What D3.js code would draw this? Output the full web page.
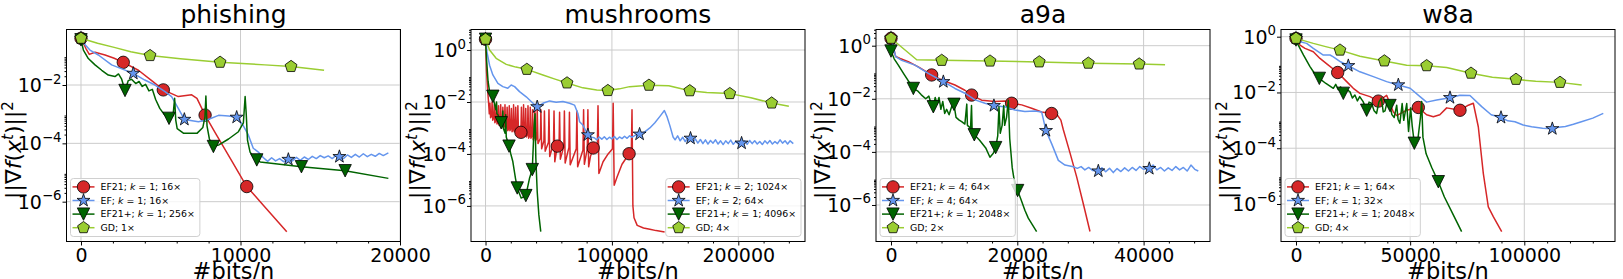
<!DOCTYPE html>
<html>
<head>
<meta charset="utf-8">
<script src="https://cdn.jsdelivr.net/npm/d3@7"></script>
<style>
  body { margin: 0; background: #fff; }
  text { font-family: "DejaVu Sans", sans-serif; fill: #000; }
</style>
</head>
<body>
<svg id="chart" width="1623" height="279"></svg>
<script>
// ---------- phishing ----------
const phishingEF21 = [[0,0.40],[310,0.178],[520,0.112],[880,0.132],[1510,0.107],[2080,0.083],[2650,0.060],[3600,0.032],[4430,0.0141],[5160,6.8e-3],[6100,4.0e-3],[6940,4.6e-3],[7270,3.5e-3],[7780,9.3e-4],[8400,2.4e-4],[9450,2.5e-5],[10390,3.3e-6],[11430,7.6e-7],[12900,9.3e-8]];
const phishingEF21Marks = [[0,0.40],[2650,0.060],[5160,6.8e-3],[7780,9.3e-4],[10390,3.3e-6]];
const phishingEF = [[0,0.40],[260,0.24],[560,0.158],[1090,0.107],[1920,0.049],[3280,0.025],[4000,0.0148],[4640,0.010],[5270,5.9e-3],[5680,4.0e-3],[6100,1.58e-3],[6480,6.6e-4],[7360,5.5e-4],[7900,6.3e-4],[8620,9.1e-4],[9250,8.7e-4],[9760,7.8e-4],[10180,4.0e-4],[10490,1.95e-4],[10800,6.8e-5],[11120,5.0e-5],[11440,3.2e-5],[11700,2.4e-5],[11950,3.2e-5],[12200,2.5e-5],[12450,3.0e-5],[12700,2.35e-5],[13000,2.8e-5],[13250,2.5e-5],[13500,3.3e-5],[13750,2.6e-5],[14000,3.4e-5],[14250,2.8e-5],[14500,3.6e-5],[14750,3.0e-5],[15000,3.8e-5],[15250,3.2e-5],[15500,3.7e-5],[15750,3.0e-5],[16000,3.9e-5],[16200,3.5e-5],[16450,3.0e-5],[16700,4.0e-5],[16950,3.3e-5],[17200,4.2e-5],[17450,3.4e-5],[17700,4.4e-5],[17950,3.5e-5],[18200,4.2e-5],[18450,3.6e-5],[18700,4.5e-5],[18950,3.8e-5],[19270,4.7e-5]];
const phishingEFMarks = [[0,0.40],[3280,0.025],[6480,6.6e-4],[9760,7.8e-4],[13000,2.8e-5],[16200,3.5e-5]];
const phishingEF21p = [[0,0.355],[150,0.158],[460,0.081],[880,0.049],[1300,0.032],[1710,0.022],[2130,0.0195],[2350,0.024],[2550,0.0158],[2760,6.5e-3],[2960,0.0141],[3170,0.0158],[3430,0.0112],[3640,0.0132],[3840,8.9e-3],[4050,0.0105],[4260,6.3e-3],[4470,7.1e-3],[4680,3.2e-3],[4940,1.58e-3],[5200,1.0e-3],[5520,7.2e-4],[5770,8.9e-4],[5870,3.5e-3],[5940,6.3e-4],[6030,3.2e-4],[6440,2.2e-4],[7270,2.2e-4],[7640,3.5e-4],[7770,7.9e-4],[7830,4.2e-3],[7900,4.0e-4],[8050,1.41e-4],[8300,7.8e-5],[8620,8.7e-5],[9250,1.41e-4],[9870,2.5e-4],[10180,5.0e-4],[10290,4.0e-3],[10360,1.0e-3],[10440,1.26e-4],[10600,5.0e-5],[10800,3.5e-5],[11020,2.7e-5],[11230,2.3e-5],[13820,1.58e-5],[16560,1.15e-5],[19270,6.3e-6]];
const phishingEF21pMarks = [[0,0.355],[2760,6.5e-3],[5520,7.2e-4],[8300,7.8e-5],[11020,2.7e-5],[13820,1.58e-5],[16560,1.15e-5]];
const phishingGD = [[0,0.40],[1040,0.27],[2080,0.195],[3120,0.138],[4330,0.102],[6230,0.079],[8720,0.060],[10390,0.054],[11530,0.049],[13170,0.043],[15240,0.032]];
const phishingGDMarks = [[0,0.40],[4330,0.102],[8720,0.060],[13170,0.043]];
const phishingK = [1, 1, 1];
const phishingMult = ["16×", "16×", "256×", "1×"];
const phishingXTicks = [0, 10000, 20000];
const phishingYTicks = [1e-6, 1e-4, 1e-2];

// ---------- mushrooms ----------
const mushroomsEF21 = [[0,2.6],[800,0.158],[1600,0.0316],[2400,0.010],[3000,3.5e-3],[3500,8.9e-3],[4000,2.5e-3],[4800,2.8e-3],[5200,1.0e-2],[5700,2.0e-3],[6500,2.5e-3],[6900,7.9e-3],[7400,1.58e-3],[8200,2.0e-3],[8600,8.9e-3],[9100,1.41e-3],[9900,1.78e-3],[10300,7.1e-3],[10800,1.26e-3],[11600,1.58e-3],[12000,7.9e-3],[12500,1.12e-3],[13300,1.41e-3],[13700,6.3e-3],[14200,1.0e-3],[15000,1.26e-3],[15400,7.9e-3],[15900,8.9e-4],[16700,1.12e-3],[17100,6.3e-3],[17600,7.9e-4],[18400,1.0e-3],[18800,7.1e-3],[19300,7.9e-4],[20100,1.0e-3],[20500,5.6e-3],[21000,7.1e-4],[21800,8.9e-4],[22200,7.9e-3],[22700,7.1e-4],[23500,8.9e-4],[23900,6.3e-3],[24400,6.3e-4],[25200,7.9e-4],[25600,7.1e-3],[26100,5.6e-4],[28000,6.8e-4],[28400,6.3e-3],[28900,5.0e-4],[29700,6.3e-4],[30100,7.9e-3],[30600,5.0e-4],[31400,6.3e-4],[31800,5.6e-3],[32300,4.5e-4],[33200,5.6e-4],[33600,7.1e-3],[34100,4.0e-4],[35000,5.0e-4],[35400,6.3e-3],[35900,4.0e-4],[36800,5.0e-4],[37200,5.0e-3],[37700,3.5e-4],[38600,4.5e-4],[39000,6.3e-3],[39500,3.2e-4],[40500,4.0e-4],[40900,5.6e-3],[41500,2.5e-4],[43400,4.0e-4],[43800,5.0e-3],[44400,1.58e-4],[46200,3.2e-4],[46600,4.5e-3],[47200,1.26e-4],[49800,2.8e-4],[50200,5.0e-3],[50800,7.9e-5],[53800,2.5e-4],[54200,4.5e-3],[54800,5.0e-5],[56800,2.0e-4],[58200,2.5e-4],[58600,4.0e-3],[59200,6.3e-5],[62000,2.0e-4],[62400,4.5e-3],[63000,4.5e-5],[66000,1.78e-4],[66400,4.0e-3],[67000,3.8e-5],[71800,1.58e-4],[72300,4.5e-3],[72900,3.2e-5],[77100,1.41e-4],[77600,5.0e-3],[78200,4.0e-5],[80500,1.58e-4],[81000,5.0e-3],[81600,3.2e-5],[83000,7.9e-5],[85200,1.7e-4],[88500,2.5e-4],[89000,7.1e-3],[89700,1.78e-5],[93000,5.0e-5],[97000,1.0e-4],[100500,1.58e-4],[101000,8.9e-3],[101800,6.3e-6],[104000,1.26e-5],[108000,4.0e-5],[113600,1.02e-4],[115400,1.58e-4],[115900,5.0e-3],[116600,1.0e-6],[117500,3.5e-7],[120000,1.78e-7],[125000,1.41e-7],[130000,1.26e-7],[135000,1.12e-7],[141700,1.0e-7]];
const mushroomsEF21Marks = [[0,2.6],[28000,6.8e-4],[56800,2.0e-4],[85200,1.7e-4],[113600,1.02e-4]];
const mushroomsEF = [[0,2.6],[1100,0.87],[3200,0.26],[5800,0.11],[9800,0.052],[13700,0.039],[17600,0.034],[20300,0.045],[23000,0.039],[26900,0.025],[32200,0.0158],[36500,0.010],[40900,0.0065],[45400,0.0089],[50700,0.011],[55900,0.0098],[61200,0.0105],[66500,0.0089],[70400,0.0076],[73100,0.0036],[74400,0.00174],[77000,0.00129],[81000,5.4e-4],[84000,4.4e-4],[86000,4.2e-4],[88000,3.5e-4],[90000,4.5e-4],[92000,3.7e-4],[94000,4.6e-4],[96000,3.6e-4],[98000,4.4e-4],[100000,3.8e-4],[102000,4.7e-4],[104000,3.6e-4],[106000,4.5e-4],[108000,3.9e-4],[110000,4.8e-4],[112000,4.0e-4],[114000,5.0e-4],[116000,4.4e-4],[119000,5.4e-4],[121900,5.75e-4],[126000,7.1e-4],[130000,1.0e-3],[134000,1.58e-3],[138000,2.8e-3],[141500,4.7e-3],[143500,2.8e-3],[145800,1.26e-3],[148400,4.5e-4],[150000,3.5e-4],[152000,5.0e-4],[154000,3.2e-4],[156000,4.4e-4],[158000,3.0e-4],[160000,4.2e-4],[162200,4.0e-4],[164000,2.8e-4],[166000,3.8e-4],[168000,2.6e-4],[170000,3.6e-4],[172000,2.5e-4],[174000,3.5e-4],[176000,2.4e-4],[178000,3.3e-4],[180000,2.6e-4],[182000,3.5e-4],[184000,2.4e-4],[186000,3.2e-4],[188000,2.3e-4],[190000,3.2e-4],[192000,2.5e-4],[194000,3.4e-4],[196000,2.35e-4],[198000,3.0e-4],[200000,2.4e-4],[202600,2.6e-4],[205000,3.2e-4],[207000,2.35e-4],[209000,3.3e-4],[211000,2.5e-4],[213000,3.2e-4],[215000,2.4e-4],[217000,3.0e-4],[219000,2.3e-4],[221000,3.2e-4],[223000,2.5e-4],[225000,3.3e-4],[227000,2.4e-4],[229000,3.0e-4],[231000,2.5e-4],[233000,3.5e-4],[235000,2.6e-4],[237000,3.2e-4],[239000,2.4e-4],[241000,3.2e-4],[243500,2.5e-4]];
const mushroomsEFMarks = [[0,2.6],[40900,0.0065],[81000,5.4e-4],[121900,5.75e-4],[162200,4.0e-4],[202600,2.6e-4]];
const mushroomsEF21p = [[0,2.6],[1000,0.32],[2000,0.063],[3200,0.025],[4300,0.021],[5800,0.0166],[7000,8.9e-3],[8200,5.0e-3],[8700,0.010],[9000,3.5e-3],[9800,3.2e-3],[11000,2.2e-3],[12400,1.58e-3],[13300,1.26e-3],[13700,4.5e-3],[14000,1.0e-3],[15500,6.3e-4],[16000,3.2e-3],[16400,4.5e-4],[18600,2.0e-4],[20000,1.0e-4],[21600,5.1e-5],[23700,1.15e-5],[25100,4.9e-6],[28200,2.0e-6],[31900,2.5e-6],[34800,1.15e-5],[37000,2.5e-5],[38500,1.32e-3],[39200,3.5e-3],[39800,6.8e-5],[40900,3.5e-6],[42200,4.5e-7],[43700,1.02e-7]];
const mushroomsEF21pMarks = [[0,2.6],[5800,0.0166],[12400,1.58e-3],[18600,2.0e-4],[25100,4.9e-6],[31900,2.5e-6],[37000,2.5e-5]];
const mushroomsGD = [[0,2.6],[3200,1.0],[8400,0.48],[16400,0.28],[24000,0.22],[32700,0.18],[45400,0.11],[55000,0.076],[64500,0.054],[77000,0.035],[88000,0.029],[96800,0.0275],[106000,0.032],[114000,0.039],[129300,0.044],[145000,0.042],[161600,0.027],[175000,0.023],[193300,0.021],[210000,0.0145],[226400,0.0091],[240000,0.0068]];
const mushroomsGDMarks = [[0,2.6],[32700,0.18],[64500,0.054],[96800,0.0275],[129300,0.044],[161600,0.027],[193300,0.021],[226400,0.0091]];
const mushroomsK = [2, 2, 1];
const mushroomsMult = ["1024×", "64×", "4096×", "4×"];
const mushroomsXTicks = [0, 100000, 200000];
const mushroomsYTicks = [1e-6, 1e-4, 1e-2, 1];

// ---------- a9a ----------
const a9aEF21 = [[0,1.9],[740,0.39],[1450,0.33],[2740,0.25],[4320,0.16],[6440,0.079],[8050,0.051],[10130,0.033],[11700,0.021],[12770,0.0138],[14350,0.0089],[16460,0.0079],[18000,0.0083],[19100,0.0068],[20700,0.0059],[22270,0.0044],[23850,0.0032],[25430,0.0028],[26300,0.0025],[26900,0.00158],[27290,6.8e-4],[28300,1.0e-4],[29400,1.15e-5],[30500,1.0e-6],[31510,1.0e-7]];
const a9aEF21Marks = [[0,1.9],[6440,0.079],[12770,0.0138],[19100,0.0068],[25430,0.0028]];
const a9aEF = [[0,1.9],[740,0.39],[1690,0.28],[3800,0.186],[5900,0.091],[8290,0.044],[10130,0.0245],[11700,0.0162],[13300,0.0091],[14880,0.0068],[16300,0.0055],[18000,0.005],[19630,0.0038],[21200,0.0033],[22800,0.0035],[23850,0.0032],[24540,6.3e-4],[25450,2.0e-4],[26500,4.8e-5],[27550,3.2e-5],[28870,2.75e-5],[29500,2.4e-5],[30100,2.8e-5],[30700,2.1e-5],[31300,2.6e-5],[31900,2.0e-5],[32830,1.9e-5],[33400,2.5e-5],[34000,1.78e-5],[34600,2.4e-5],[35200,1.66e-5],[35800,2.35e-5],[36400,1.82e-5],[37000,2.5e-5],[37600,1.9e-5],[38200,2.6e-5],[38800,2.0e-5],[39400,2.8e-5],[40000,2.2e-5],[40900,2.35e-5],[41500,3.2e-5],[42100,2.1e-5],[42700,2.6e-5],[43300,1.9e-5],[43900,2.5e-5],[44500,2.0e-5],[45100,2.8e-5],[45700,2.1e-5],[46300,2.6e-5],[46900,1.9e-5],[47500,3.2e-5],[48100,2.2e-5],[48660,1.9e-5]];
const a9aEFMarks = [[0,1.9],[8290,0.044],[16300,0.0055],[24540,6.3e-4],[32830,1.9e-5],[40900,2.35e-5]];
const a9aEF21p = [[0,0.63],[500,0.32],[1160,0.186],[2000,0.089],[2800,0.045],[3540,0.0245],[4200,0.020],[4800,0.0141],[5500,0.010],[6000,0.0126],[6300,7.1e-3],[6700,5.0e-3],[7000,0.0112],[7300,6.3e-3],[7600,0.0112],[7900,4.0e-3],[8200,7.9e-3],[8500,2.8e-3],[8810,4.0e-3],[9200,2.5e-3],[9600,5.0e-3],[9970,6.2e-3],[10300,2.0e-3],[10800,1.58e-3],[11190,1.38e-3],[11700,1.12e-3],[12000,6.3e-3],[12100,1.0e-3],[12600,7.9e-4],[12750,5.6e-3],[12850,6.3e-4],[13190,4.4e-4],[14000,2.8e-4],[15000,1.41e-4],[15670,6.3e-5],[16200,8.9e-5],[16570,1.45e-4],[16900,4.0e-4],[17100,5.0e-3],[17300,5.0e-4],[17600,1.0e-3],[17850,5.6e-3],[18000,1.0e-3],[18300,2.0e-3],[18580,8.9e-3],[18800,3.2e-4],[19200,2.5e-5],[19600,6.3e-6],[20050,3.5e-6],[20600,1.58e-6],[21200,6.3e-7],[21740,3.2e-7],[22400,1.78e-7],[23060,1.0e-7]];
const a9aEF21pMarks = [[0,0.63],[3540,0.0245],[6700,5.0e-3],[9970,6.2e-3],[13190,4.4e-4],[16570,1.45e-4],[20050,3.5e-6]];
const a9aGD = [[0,1.9],[4070,0.295],[8030,0.28],[15680,0.263],[23480,0.245],[31250,0.219],[39300,0.204],[43400,0.19]];
const a9aGDMarks = [[0,1.9],[8030,0.28],[15680,0.263],[23480,0.245],[31250,0.219],[39300,0.204]];
const a9aK = [4, 4, 1];
const a9aMult = ["64×", "64×", "2048×", "2×"];
const a9aXTicks = [0, 20000, 40000];
const a9aYTicks = [1e-6, 1e-4, 1e-2, 1];

// ---------- w8a ----------
const w8aEF21 = [[0,0.87],[1750,0.5],[3940,0.38],[7590,0.29],[10500,0.166],[13900,0.1],[18250,0.052],[22200,0.0245],[25100,0.0141],[28000,0.0093],[32400,0.0071],[36060,0.0049],[39700,0.0079],[42630,0.0020],[44080,0.00148],[48470,0.0023],[53580,0.0029],[57200,0.00158],[60150,0.00135],[63000,0.00158],[66000,0.0028],[71830,0.0023],[75480,0.0035],[77670,0.0041],[79850,5.9e-4],[82040,1.26e-5],[84230,7.9e-7],[86420,3.5e-7],[90100,1.02e-7]];
const w8aEF21Marks = [[0,0.87],[18250,0.052],[36060,0.0049],[53580,0.0029],[71830,0.0023]];
const w8aEF = [[0,0.87],[1750,0.66],[4670,0.575],[7590,0.38],[11970,0.22],[14900,0.22],[16350,0.19],[19500,0.126],[22920,0.091],[28000,0.055],[33870,0.037],[39700,0.0245],[44820,0.0186],[50000,0.0141],[54310,0.0071],[57200,0.0045],[61600,0.0054],[67450,0.0065],[71800,0.0079],[76200,0.0078],[81340,0.0031],[85500,0.00158],[89800,0.00126],[92800,9.6e-4],[95900,8.9e-4],[99500,6.8e-4],[103200,5.9e-4],[108000,5.2e-4],[112270,5.0e-4],[115000,5.6e-4],[118000,6.0e-4],[121500,7.2e-4],[125000,8.9e-4],[130000,1.2e-3],[134600,1.78e-3]];
const w8aEFMarks = [[0,0.87],[22920,0.091],[44820,0.0186],[67450,0.0065],[89800,0.00126],[112270,5.0e-4]];
const w8aEF21p = [[0,0.76],[1000,0.5],[3300,0.22],[6130,0.085],[8000,0.05],[10220,0.032],[13100,0.021],[16350,0.0141],[17400,0.0195],[18500,0.0126],[19500,0.0158],[20730,0.0093],[22200,0.0126],[23600,0.0107],[24700,0.0063],[25800,0.0081],[26900,0.0050],[27900,0.0071],[29400,0.0047],[30950,0.0023],[32000,0.0045],[33100,0.0041],[34200,0.0022],[35300,0.00178],[36300,0.0045],[37400,0.0063],[38200,0.0020],[39000,0.0022],[40000,0.0050],[41170,0.0034],[42000,0.0016],[43000,0.00126],[44100,0.0035],[44700,0.0011],[45500,7.9e-4],[46500,0.0040],[47200,0.0010],[48500,0.0040],[49300,4.0e-4],[50200,0.0028],[50900,6.3e-4],[51830,1.51e-4],[53500,2.5e-4],[54500,0.00126],[55040,0.0047],[55600,2.5e-4],[57000,6.3e-5],[59500,2.0e-5],[62340,6.3e-6],[65000,1.78e-6],[68900,4.1e-7],[72550,1.02e-7]];
const w8aEF21pMarks = [[0,0.76],[10220,0.032],[20730,0.0093],[30950,0.0023],[41170,0.0034],[51830,1.51e-4],[62340,6.3e-6]];
const w8aGD = [[0,0.87],[7590,0.575],[13000,0.44],[19270,0.33],[28000,0.2],[38700,0.135],[48470,0.095],[57230,0.091],[66000,0.079],[76650,0.049],[86000,0.035],[96360,0.0295],[105000,0.025],[115640,0.023],[125130,0.0186]];
const w8aGDMarks = [[0,0.87],[19270,0.33],[38700,0.135],[57230,0.091],[76650,0.049],[96360,0.0295],[115640,0.023]];
const w8aK = [1, 1, 1];
const w8aMult = ["64×", "32×", "2048×", "4×"];
const w8aXTicks = [0, 50000, 100000];
const w8aYTicks = [1e-6, 1e-4, 1e-2, 1];

const methods = ["EF21", "EF", "EF21+", "GD"];

// ---------- layout ----------
const TOP = 29.5, BOT = 241.5, PW = 334;
const colors = ["#d62728", "#6495ed", "#006400", "#9acd32"];
const shapes = ["circle", "star", "tri", "pent"];

const panels = [
  { title: "phishing", L: 66.5, xLim: [-909, 20031], yLim: [-7.365, -0.097], minorStep: 2000,
    xTicks: phishingXTicks, yTicks: phishingYTicks, legend: "left",
    lines: [phishingEF21, phishingEF, phishingEF21p, phishingGD],
    marks: [phishingEF21Marks, phishingEFMarks, phishingEF21pMarks, phishingGDMarks],
    k: phishingK, mult: phishingMult },
  { title: "mushrooms", L: 471, xLim: [-11490, 252773], yLim: [-7.37, 0.79], minorStep: 20000,
    xTicks: mushroomsXTicks, yTicks: mushroomsYTicks, legend: "right",
    lines: [mushroomsEF21, mushroomsEF, mushroomsEF21p, mushroomsGD],
    marks: [mushroomsEF21Marks, mushroomsEFMarks, mushroomsEF21pMarks, mushroomsGDMarks],
    k: mushroomsK, mult: mushroomsMult },
  { title: "a9a", L: 876, xLim: [-2375, 50515], yLim: [-7.375, 0.61], minorStep: 4000,
    xTicks: a9aXTicks, yTicks: a9aYTicks, legend: "left",
    lines: [a9aEF21, a9aEF, a9aEF21p, a9aGD],
    marks: [a9aEF21Marks, a9aEFMarks, a9aEF21pMarks, a9aGDMarks],
    k: a9aK, mult: a9aMult },
  { title: "w8a", L: 1281, xLim: [-6570, 139728], yLim: [-7.345, 0.258], minorStep: 10000,
    xTicks: w8aXTicks, yTicks: w8aYTicks, legend: "left",
    lines: [w8aEF21, w8aEF, w8aEF21p, w8aGD],
    marks: [w8aEF21Marks, w8aEFMarks, w8aEF21pMarks, w8aGDMarks],
    k: w8aK, mult: w8aMult }
];

const svg = d3.select("#chart");

// matplotlib-like marker outlines
function markerPath(shape) {
  const r = 6.2;
  if (shape === "circle") return d3.symbol(d3.symbolCircle, Math.PI * r * r)();
  if (shape === "tri") return `M${-r},${-r}L${r},${-r}L0,${r}Z`;
  const n = shape === "star" ? 10 : 5;
  const pts = d3.range(n).map(i => {
    const a = -Math.PI / 2 + i * 2 * Math.PI / n;
    const rr = shape === "star" ? (i % 2 ? r * 1.1 * 0.382 : r * 1.1) : r;
    return [rr * Math.cos(a), rr * Math.sin(a)];
  });
  return "M" + pts.map(p => p.join(",")).join("L") + "Z";
}

panels.forEach((p, pi) => {
  const g = svg.append("g");
  const R = p.L + PW;
  const x = d3.scaleLinear().domain(p.xLim).range([p.L, R]);
  const y = d3.scaleLog().domain([10 ** p.yLim[0], 10 ** p.yLim[1]]).range([BOT, TOP]);

  // grid
  g.append("g").selectAll("line").data(p.xTicks).join("line")
    .attr("x1", d => x(d)).attr("x2", d => x(d)).attr("y1", TOP).attr("y2", BOT)
    .attr("stroke", "#cccccc").attr("stroke-width", 1);
  g.append("g").selectAll("line").data(p.yTicks).join("line")
    .attr("x1", p.L).attr("x2", R).attr("y1", d => y(d)).attr("y2", d => y(d))
    .attr("stroke", "#cccccc").attr("stroke-width", 1);

  // curves
  const clipId = "clip" + pi;
  g.append("clipPath").attr("id", clipId).append("rect")
    .attr("x", p.L).attr("y", TOP).attr("width", PW).attr("height", BOT - TOP);
  const line = d3.line().x(d => x(d[0])).y(d => y(d[1]));
  p.lines.forEach((s, si) => {
    g.append("path").datum(s).attr("d", line)
      .attr("clip-path", `url(#${clipId})`)
      .attr("fill", "none").attr("stroke", colors[si]).attr("stroke-width", 1.5)
      .attr("stroke-linejoin", "round");
    g.append("g").selectAll("path").data(p.marks[si]).join("path")
      .attr("d", markerPath(shapes[si]))
      .attr("transform", d => `translate(${x(d[0])},${y(d[1])})`)
      .attr("fill", colors[si]).attr("stroke", "#000").attr("stroke-width", 0.8);
  });

  // frame
  g.append("rect").attr("x", p.L).attr("y", TOP).attr("width", PW).attr("height", BOT - TOP)
    .attr("fill", "none").attr("stroke", "#000").attr("stroke-width", 1);

  // x axis
  const xMinor = d3.range(0, p.xLim[1], p.minorStep).filter(v => !p.xTicks.includes(v));
  g.append("g").attr("transform", `translate(0,${BOT})`)
    .call(d3.axisBottom(x).tickValues(xMinor).tickSize(2).tickFormat(""))
    .call(a => a.select(".domain").remove());
  g.append("g").attr("transform", `translate(0,${BOT})`)
    .call(d3.axisBottom(x).tickValues(p.xTicks).tickSize(4).tickPadding(3.5).tickFormat(d3.format("d")))
    .call(a => a.select(".domain").remove())
    .call(a => a.selectAll("text").attr("font-size", 19).attr("font-family", "DejaVu Sans"));

  // y axis (log)
  const yMinor = [];
  p.yTicks.forEach(t => { for (let m = 2; m < 10; m++) if (t * m < 10 ** p.yLim[1]) yMinor.push(t * m); });
  g.append("g").attr("transform", `translate(${p.L},0)`)
    .call(d3.axisLeft(y).tickValues(yMinor).tickSize(2).tickFormat(""))
    .call(a => a.select(".domain").remove());
  g.append("g").attr("transform", `translate(${p.L},0)`)
    .call(d3.axisLeft(y).tickValues(p.yTicks).tickSize(4).tickFormat(""))
    .call(a => a.select(".domain").remove());
  p.yTicks.forEach(t => {
    const e = Math.round(Math.log10(t));
    const tx = g.append("text").attr("x", p.L - 5).attr("y", y(t) + 7)
      .attr("text-anchor", "end").attr("font-size", 19);
    tx.append("tspan").text("10");
    tx.append("tspan").attr("dy", -8.5).attr("font-size", 13.3).text(e === 0 ? "0" : "\u2212" + (-e));
  });

  // title and axis labels
  g.append("text").attr("x", (p.L + R) / 2).attr("y", 23).attr("text-anchor", "middle")
    .attr("font-size", 25).text(p.title);
  g.append("text").attr("x", (p.L + R) / 2).attr("y", 278.5).attr("text-anchor", "middle")
    .attr("font-size", 22.5).text("#bits/n");
  const yl = g.append("text").attr("transform", `translate(${p.L - 46},150) rotate(-90)`)
    .attr("text-anchor", "middle").attr("font-size", 22);
  yl.append("tspan").text("||\u2207");
  yl.append("tspan").attr("font-style", "italic").text("f");
  yl.append("tspan").text("(");
  yl.append("tspan").attr("font-style", "italic").text("x");
  yl.append("tspan").attr("font-style", "italic").attr("font-size", 15).attr("dy", -8).text("t");
  yl.append("tspan").attr("dy", 8).text(")||");
  yl.append("tspan").attr("font-size", 15).attr("dy", -8).text("2");

  // legend
  const lg = g.append("g");
  const box = lg.append("rect").attr("fill", "#fff").attr("fill-opacity", 0.8)
    .attr("stroke", "#d0d0d0").attr("rx", 3);
  const rowH = 13.6;
  let maxW = 0;
  const items = methods.map((m, i) => {
    const row = lg.append("g");
    row.append("line").attr("x1", 2).attr("x2", 24).attr("y1", 0).attr("y2", 0)
      .attr("stroke", colors[i]).attr("stroke-width", 1.5);
    row.append("path").attr("d", markerPath(shapes[i])).attr("transform", "translate(13,0)")
      .attr("fill", colors[i]).attr("stroke", "#000").attr("stroke-width", 0.8);
    const t = row.append("text").attr("x", 30).attr("dy", "0.35em").attr("font-size", 9.4);
    if (i < 3) {
      t.append("tspan").text(m + "; ");
      t.append("tspan").attr("font-style", "italic").text("k");
      t.append("tspan").text(" = " + p.k[i] + "; " + p.mult[i]);
    } else {
      t.append("tspan").text(m + "; " + p.mult[i]);
    }
    maxW = Math.max(maxW, t.node().getComputedTextLength());
    return row;
  });
  const bw = 30 + maxW + 5, bh = 58;
  const bx = p.legend === "left" ? p.L + 4 : R - 4 - bw;
  const by = 178.5;
  box.attr("x", 0).attr("y", 0).attr("width", bw).attr("height", bh);
  lg.attr("transform", `translate(${bx},${by})`);
  items.forEach((row, i) => row.attr("transform", `translate(0,${8.4 + i * rowH})`));
});
</script>
</body>
</html>
